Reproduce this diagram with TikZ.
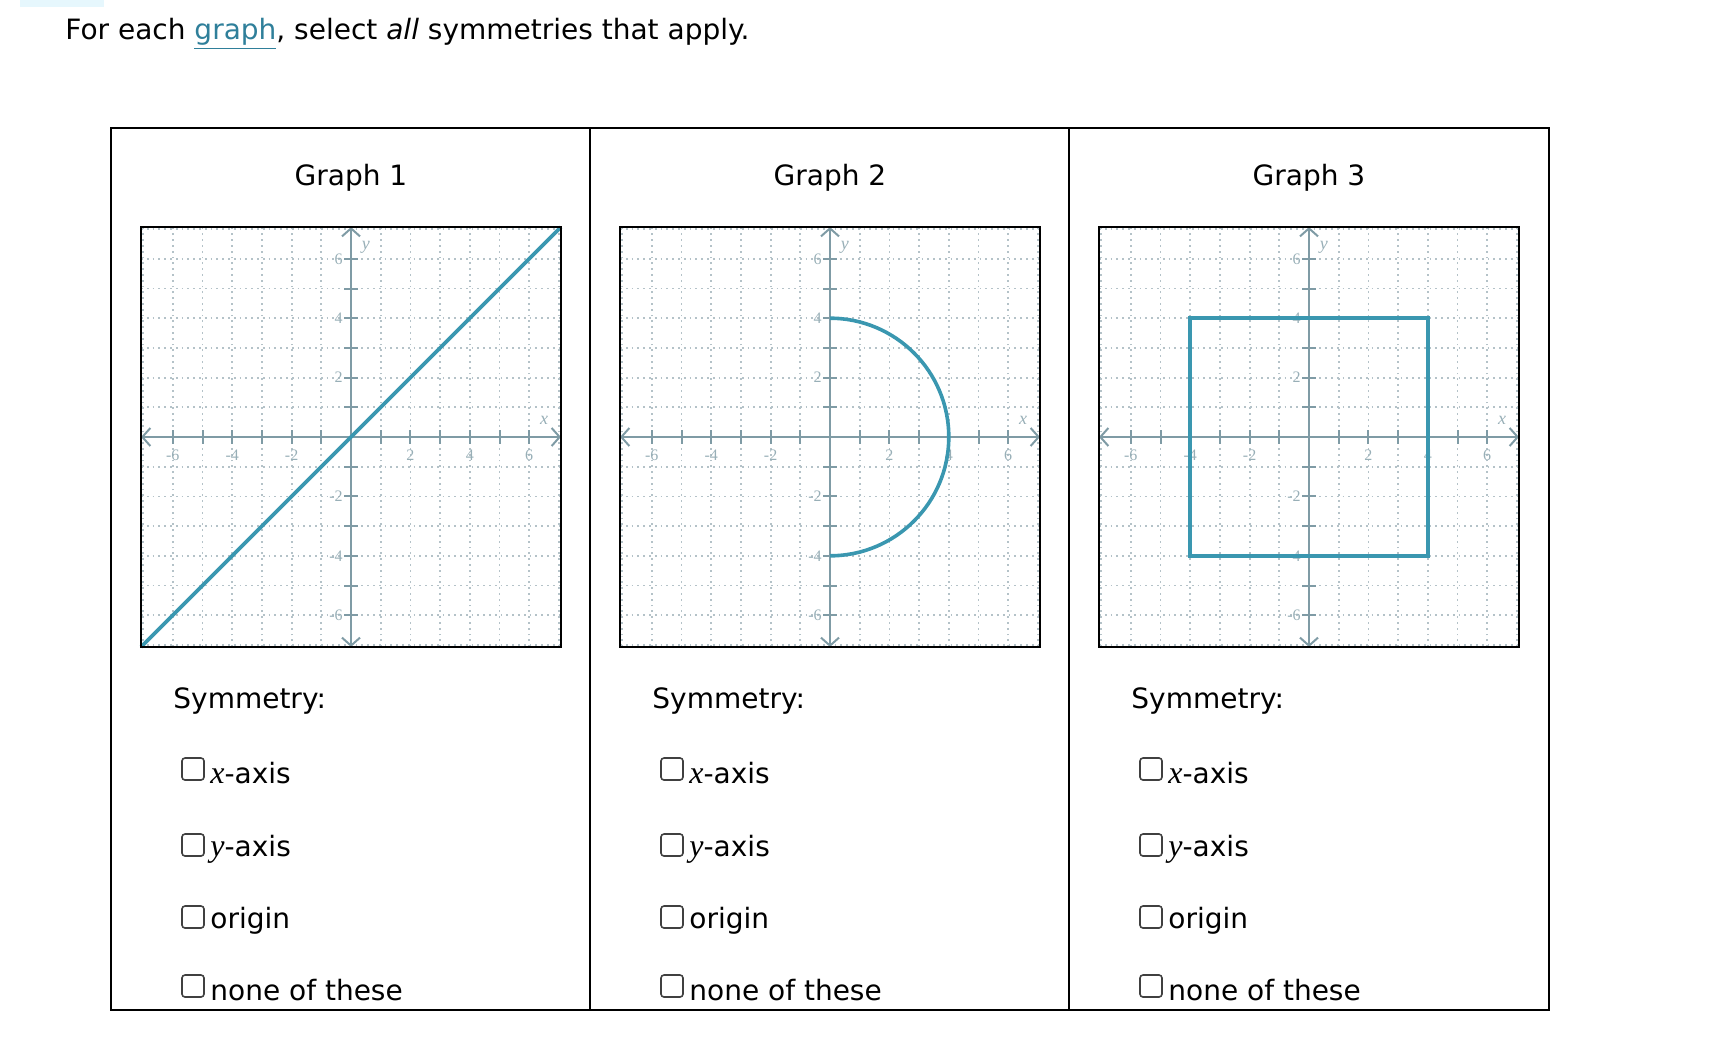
\documentclass[tikz,border=0pt]{standalone}
\usepackage{fontspec}
\setmainfont{DejaVu Sans}
\newfontfamily\ticksf{Liberation Serif}
\usetikzlibrary{arrows.meta}
\definecolor{curve}{HTML}{3A97B0}
\definecolor{axis}{HTML}{7F9BA5}
\definecolor{gridc}{HTML}{B4C2C8}
\definecolor{linkc}{HTML}{2F7F9A}
\tikzset{
  gridline/.style={gridc, line width=0.9pt, dotted},
  axisline/.style={axis, line width=1pt, {Straight Barb[length=4pt,width=9pt]}-{Straight Barb[length=4pt,width=9pt]}},
  ticklab/.style={text=axis!80, font=\ticksf\fontsize{8}{8}\selectfont, inner sep=1pt},
  graphline/.style={curve, line width=1.8pt},
  cbox/.style={draw=black!75, line width=0.8pt, rounded corners=1.5pt, minimum size=11pt, inner sep=0pt},
  lab/.style={anchor=west, font=\fontsize{14}{14}\selectfont, inner sep=0pt},
}
\newcommand{\plotframe}{%
  \foreach \i in {-7,...,7}{
    \draw[gridline] (\i,-7.07) -- (\i,7.07);
    \draw[gridline] (-7.07,\i) -- (7.07,\i);
  }
  \draw[axisline] (-7.07,0) -- (7.07,0);
  \draw[axisline] (0,-7.07) -- (0,7.07);
  \foreach \i in {-6,...,6}{
    \ifnum\i=0\else
      \draw[axis, line width=1pt] (\i,-0.22) -- (\i,0.22);
      \draw[axis, line width=1pt] (-0.22,\i) -- (0.22,\i);
    \fi
  }
  \foreach \i in {-6,-4,-2,2,4,6}{
    \node[ticklab, anchor=north] at (\i,-0.35) {\i};
    \node[ticklab, anchor=east] at (-0.2,\i) {\i};
  }
  \node[ticklab, font=\ticksf\itshape\fontsize{9}{9}\selectfont] at (6.5,0.55) {x};
  \node[ticklab, font=\ticksf\itshape\fontsize{9}{9}\selectfont] at (0.5,6.4) {y};
}
\begin{document}
\begin{tikzpicture}[x=0.5pt,y=-0.5pt]
\useasboundingbox (0,0) rectangle (1720,1040);
\fill[cyan!10] (20,-10) rectangle (104,7);
\node[anchor=west, inner sep=0pt, font=\fontsize{14}{14}\selectfont] (title) at (65,34)
  {For each \textcolor{linkc}{\underline{graph}}, select \textit{all} symmetries that apply.};
\draw[black, line width=1.2pt] (111,128) rectangle (1549,1010);
\draw[black, line width=1.2pt] (590,128) -- (590,1010);
\draw[black, line width=1.2pt] (1069,128) -- (1069,1010);
\foreach \k/\g in {0/1,1/2,2/3}{
  \begin{scope}[xshift=\k*479*0.5pt]
    \node[font=\fontsize{14}{14}\selectfont] (gt\g) at (351,178) {Graph \g};
    \begin{scope}[shift={(351,437)}, x=14.85pt, y=14.85pt]
      \plotframe
      \ifnum\g=1 \draw[graphline] (-7.07,-7.07) -- (7.07,7.07); \fi
      \ifnum\g=2 \draw[graphline] (0,4) arc[start angle=90, end angle=-90, radius=4]; \fi
      \ifnum\g=3 \draw[graphline] (-4,-4) rectangle (4,4); \fi
      \draw[black, line width=1.2pt] (-7.07,-7.07) rectangle (7.07,7.07);
    \end{scope}
    \node[lab] (sym\g) at (173,701) {Symmetry:};
    \node[cbox] (c1\g) at (193,769) {};
    \node[lab] at (210,773) {\textit{\ticksf\fontsize{16}{16}\selectfont x}-axis};
    \node[cbox] (c2\g) at (193,845) {};
    \node[lab] at (210,849) {\textit{\ticksf\fontsize{16}{16}\selectfont y}-axis};
    \node[cbox] (c3\g) at (193,917) {};
    \node[lab] at (210,921) {origin};
    \node[cbox] (c4\g) at (193,986) {};
    \node[lab] at (210,990) {none of these};
  \end{scope}
}
\end{tikzpicture}
\end{document}
